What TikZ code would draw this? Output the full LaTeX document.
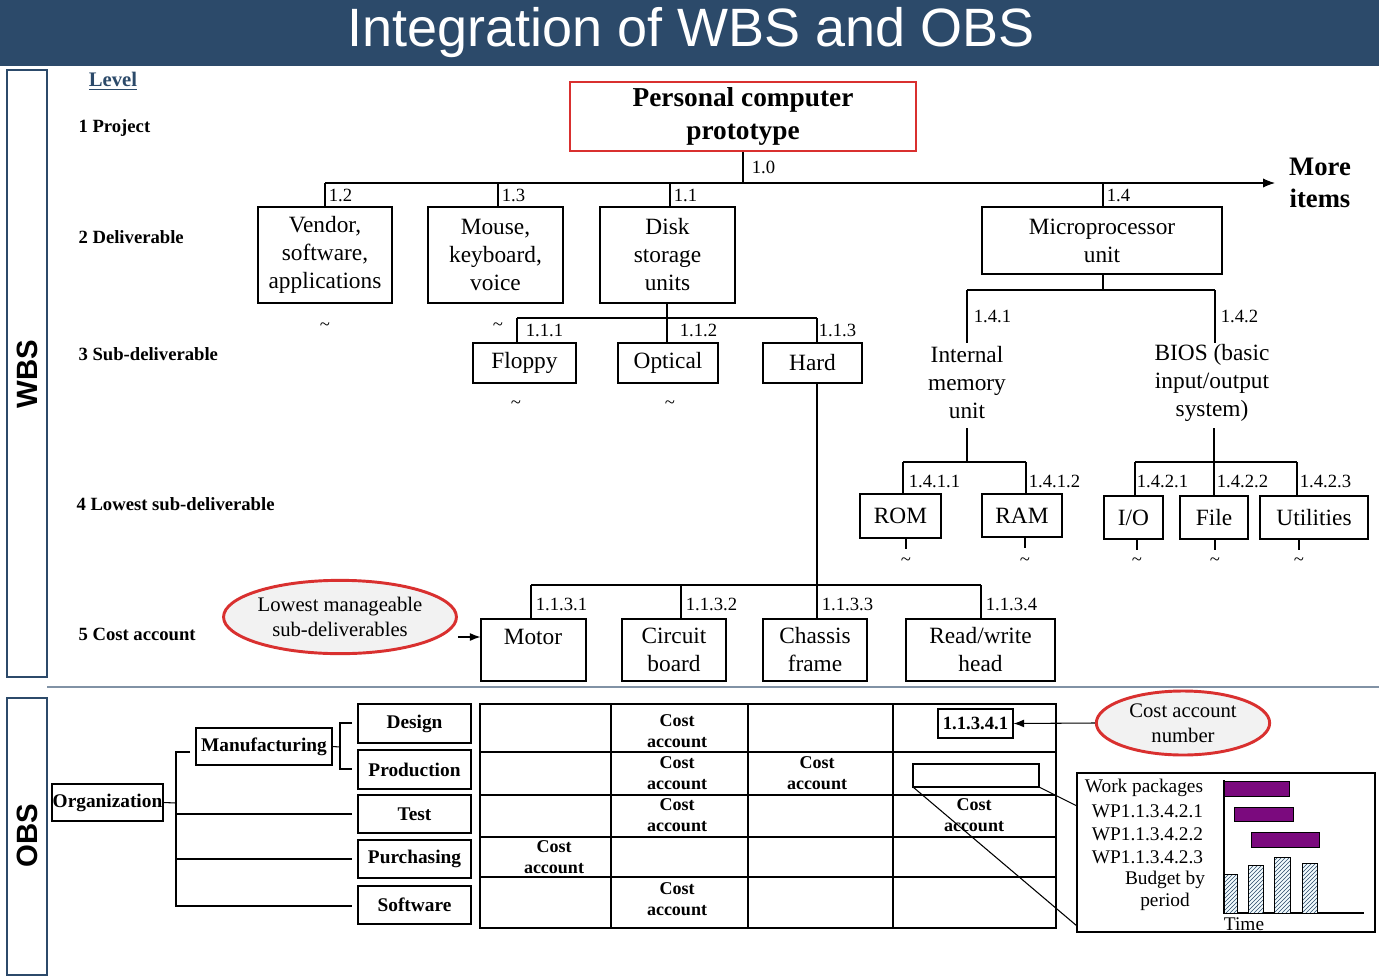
\documentclass[tikz,border=0pt]{standalone}
\usepackage{fontspec}
\setmainfont{Liberation Serif}
\newfontfamily\sansf{Liberation Sans}
\usetikzlibrary{shapes.geometric,patterns,arrows.meta}
\definecolor{navy}{HTML}{2C4A6A}
\definecolor{redb}{HTML}{D9302F}
\definecolor{purp}{HTML}{7B0A7E}
\newcommand\bx[7][]{\node[box,#1,minimum width={(#5-#3)*0.75pt},minimum height={(#6-#4)*0.75pt}] (#2) at ({(#3+#5)/2},{(#4+#6)/2}) {#7};}
\begin{document}
\begin{tikzpicture}[x=0.75pt,y=-0.75pt,line width=0.8pt,
  box/.style={draw,inner sep=0pt,align=center,font=\fontsize{17.5}{21}\selectfont},
  num/.style={anchor=west,font=\fontsize{14}{15}\selectfont,inner sep=1pt},
  lvl/.style={anchor=west,font=\bfseries\fontsize{14}{15}\selectfont,inner sep=0pt},
  ca/.style={align=center,font=\bfseries\fontsize{13.5}{16}\selectfont,inner sep=0pt},
  obsb/.style={box,font=\bfseries\fontsize{14.5}{16}\selectfont},
  tl/.style={font=\fontsize{14.5}{16}\selectfont},
  callout/.style={ellipse,draw=redb,line width=2.2pt,fill=gray!10,align=center,font=\fontsize{15.5}{19}\selectfont,inner sep=0pt},
  tilde/.style={font=\fontsize{14}{14}\selectfont,inner sep=0pt}]
\useasboundingbox (0,0) rectangle (1379,979);
\fill[white] (0,0) rectangle (1379,979);
% title
\fill[navy] (0,0) rectangle (1379,66);
\node[text=white,font=\sansf\fontsize{40.5}{42}\selectfont] (title) at (691,33) {Integration of WBS and OBS};
% side boxes
\draw[navy,line width=1.5pt] (7,70) rectangle (47,677);
\node[rotate=90,font=\sansf\bfseries\fontsize{22}{24}\selectfont] (wbs) at (27,374) {WBS};
\draw[navy,line width=1.5pt] (7,698) rectangle (47,975);
\node[rotate=90,font=\sansf\bfseries\fontsize{22}{24}\selectfont] (obs) at (27,836) {OBS};
\draw[navy!60,line width=0.8pt] (47,687) -- (1379,687);
% levels
\node[font=\bfseries\fontsize{15.5}{17}\selectfont,text=navy] (lev) at (113,81) {\underline{Level}};
\node[lvl] (l1) at (78,128) {1 Project};
\node[lvl] (l2) at (78,237) {2 Deliverable};
\node[lvl] (l3) at (78,354) {3 Sub-deliverable};
\node[lvl] (l4) at (76,504) {4 Lowest sub-deliverable};
\node[lvl] (l5) at (78,634) {5 Cost account};
% root
\bx[draw=redb,line width=2pt,font=\bfseries\fontsize{20.5}{25}\selectfont]{root}{570}{82}{916}{151}{Personal computer\\prototype}
\coordinate (r1) at (743,183);
\draw (root.south -| r1) -- (r1);
\node[num] at (750,167) {1.0};
\draw[-{Latex[length=9pt,width=7pt]}] (325,183) -- (1275,183);
\node[font=\bfseries\fontsize{20}{24}\selectfont,align=center] (more) at (1320,183) {More\\items};
% deliverables
\bx{ven}{258}{207}{392}{303}{Vendor,\\software,\\applications}
\bx{mou}{428}{207}{563}{303}{Mouse,\\keyboard,\\voice}
\bx{dis}{600}{207}{735}{303}{Disk\\storage\\units}
\bx{mic}{982}{207}{1222}{274}{Microprocessor\\unit}
\foreach \n/\x/\t in {ven/325/1.2,mou/498/1.3,dis/670/1.1,mic/1103/1.4}{
  \draw (\x,183) -- (\n.north -| {(\x,0)});
  \node[num] at (\x+2,195) {\t};}
\node[tilde] at (325,327) {\textasciitilde};
\node[tilde] at (498,327) {\textasciitilde};
% sub-deliverables
\bx{flo}{473}{343}{576}{383}{Floppy}
\bx{opt}{618}{343}{718}{383}{Optical}
\bx{har}{763}{343}{862}{383}{Hard}
\draw (dis.south -| {(667,0)}) -- (667,318);
\draw (517,318) -- (817,318);
\draw (517,318) -- (517,343);
\draw (667,318) -- (667,343);
\draw (817,318) -- (817,343);
\node[num] at (524,330) {1.1.1};
\node[num] at (678,330) {1.1.2};
\node[num] at (817,330) {1.1.3};
\node[tilde] at (516,405) {\textasciitilde};
\node[tilde] at (670,405) {\textasciitilde};
% micro branch
\node[align=center,font=\fontsize{17.5}{21}\selectfont] (imu) at (967,383) {Internal\\memory\\unit};
\node[align=center,font=\fontsize{17.5}{21}\selectfont] (bios) at (1212,383) {BIOS (basic\\input/output\\system)};
\draw (1103,274) -- (1103,290);
\draw (967,290) -- (1215,290);
\draw (967,290) -- (967,343);
\draw (1215,290) -- (1215,343);
\node[num] at (972,316) {1.4.1};
\node[num] at (1219,316) {1.4.2};
\bx{rom}{860}{494}{941}{538}{ROM}
\bx{ram}{982}{494}{1062}{537}{RAM}
\bx{io}{1104}{496}{1163}{539}{I/O}
\bx{fil}{1180}{496}{1248}{539}{File}
\bx{uti}{1260}{496}{1368}{539}{Utilities}
\draw (967,428) -- (967,462);
\draw (903,462) -- (1026,462);
\draw (903,462) -- (rom.north -| {(903,0)});
\draw (1026,462) -- (ram.north -| {(1026,0)});
\node[num] at (907,481) {1.4.1.1};
\node[num] at (1027,481) {1.4.1.2};
\draw (1214,428) -- (1214,462);
\draw (1135,462) -- (1297,462);
\draw (1135,462) -- (io.north -| {(1135,0)});
\draw (1214,462) -- (fil.north -| {(1214,0)});
\draw (1297,462) -- (uti.north -| {(1297,0)});
\node[num] at (1135,481) {1.4.2.1};
\node[num] at (1215,481) {1.4.2.2};
\node[num] at (1298,481) {1.4.2.3};
\foreach \n/\x in {rom/906,ram/1025,io/1137,fil/1215,uti/1299}{
  \draw (\n.south -| {(\x,0)}) -- ++(0,10);
  \node[tilde] at (\x,562) {\textasciitilde};}
% cost accounts
\bx{mot}{481}{619}{586}{681}{}
\node[font=\fontsize{17.5}{21}\selectfont] (mott) at (533,637) {Motor};
\bx{cir}{622}{619}{726}{681}{Circuit\\board}
\bx{cha}{763}{619}{867}{681}{Chassis\\frame}
\bx{rea}{906}{619}{1055}{681}{Read/write\\head}
\draw (817,383) -- (817,585);
\draw (531,585) -- (981,585);
\foreach \n/\x/\t in {mot/531/1.1.3.1,cir/681/1.1.3.2,cha/817/1.1.3.3,rea/981/1.1.3.4}{
  \draw (\x,585) -- (\n.north -| {(\x,0)});
  \node[num] at (\x+3,604) {\t};}
\node[callout,minimum width=165pt,minimum height=55pt] (lms) at (340,617) {Lowest manageable\\sub-deliverables};
\draw[-{Latex[length=8pt,width=6pt]}] (lms.east |- {(0,637)}) -- (mot.west |- {(0,637)});
% OBS
\bx[obsb]{org}{52}{784}{163}{821}{Organization}
\bx[obsb]{man}{196}{728}{332}{765}{Manufacturing}
\bx[obsb]{des}{358}{704}{471}{743}{Design}
\bx[obsb]{pro}{358}{750}{471}{789}{Production}
\bx[obsb]{tes}{358}{795}{471}{833}{Test}
\bx[obsb]{pur}{358}{840}{471}{878}{Purchasing}
\bx[obsb]{sof}{358}{886}{471}{924}{Software}
\draw (org.east) -- (176,803);
\draw (190,752) -- (176,752) -- (176,906) -- (352,906);
\draw (176,814) -- (352,814);
\draw (176,859) -- (352,859);
\draw (man.east) -- (340,747);
\draw (352,723) -- (340,723) -- (340,769) -- (352,769);
% grid
\draw (480,704) rectangle (1056,928);
\foreach \x in {611,748,893} \draw (\x,704) -- (\x,928);
\foreach \y in {752,795,837,877} \draw (480,\y) -- (1056,\y);
\foreach \x/\y in {677/731,677/773,817/773,677/815,974/815,554/857,677/899}
  \node[ca] at (\x,\y) {Cost\\account};
\bx[font=\bfseries\fontsize{14}{15}\selectfont]{can}{938}{709}{1013}{738}{1.1.3.4.1}
\node[callout,minimum width=130pt,minimum height=48pt] (cae) at (1183,723) {Cost account\\number};
\draw[-{Latex[length=8pt,width=6pt]}] (cae.west) -- (can.east);
% detail
\draw (913,764) rectangle (1039,787);
\coordinate (c1) at (1039,787);
\coordinate (c2) at (913,787);
\draw (1077,773) rectangle (1375,932);
\draw (c1) -- (1077,806);
\draw (c2) -- (1077,926);
\node[tl,anchor=east] at (1208,788) {Work packages};
\node[tl,anchor=east] at (1208,811) {WP1.1.3.4.2.1};
\node[tl,anchor=east] at (1208,834) {WP1.1.3.4.2.2};
\node[tl,anchor=east] at (1208,857) {WP1.1.3.4.2.3};
\node[tl,align=center] at (1165,891) {Budget by\\period};
\draw (1224,780) -- (1224,913) -- (1364,913);
\draw[fill=purp,line width=0.5pt] (1224,781) rectangle (1289,796);
\draw[fill=purp,line width=0.5pt] (1234,807) rectangle (1293,821);
\draw[fill=purp,line width=0.5pt] (1251,832) rectangle (1319,847);
\foreach \a/\b/\t in {1224/1237/874,1248/1263/865,1274/1290/857,1302/1317/863}{
  \fill[cyan!5] (\a,\t) rectangle (\b,913);
  \fill[pattern=north east lines,pattern color=navy] (\a,\t) rectangle (\b,913);
  \draw[line width=0.6pt] (\a,\t) rectangle (\b,913);}
\node[tl] at (1244,924) {Time};
\end{tikzpicture}
\end{document}
